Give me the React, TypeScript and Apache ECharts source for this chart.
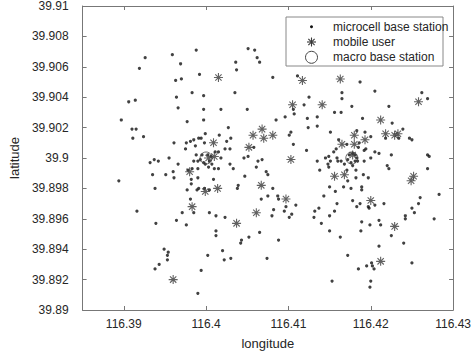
import React, { useEffect, useRef } from "react";
import * as echarts from "echarts";

const xTicks = [116.39, 116.4, 116.41, 116.42, 116.43];
const yTicks = [39.89, 39.892, 39.894, 39.896, 39.898, 39.9, 39.902, 39.904, 39.906, 39.908, 39.91];

const legendNames = ["microcell base station", "mobile user", "macro base station"];

const macroStations: number[][] = [
  [116.4, 39.9],
  [116.4177, 39.9],
];

const mobileUsers: number[][] = [
  [116.4015, 39.9053], [116.4117, 39.9051], [116.4163, 39.9052], [116.4105, 39.9035],
  [116.4141, 39.9035], [116.4258, 39.9037], [116.4212, 39.9025], [116.4068, 39.9019],
  [116.4057, 39.9015], [116.407, 39.9013], [116.4081, 39.9015], [116.4009, 39.901],
  [116.4052, 39.9007], [116.401, 39.9001], [116.4103, 39.8999], [116.418, 39.9015],
  [116.4165, 39.9009], [116.418, 39.9009], [116.4193, 39.9012], [116.4218, 39.9016],
  [116.4229, 39.9015], [116.4233, 39.9016], [116.398, 39.8991], [116.4014, 39.898],
  [116.3999, 39.8978], [116.4067, 39.8982], [116.4156, 39.8988], [116.4168, 39.8989],
  [116.4252, 39.8988], [116.4249, 39.8985], [116.3983, 39.8968], [116.4061, 39.8964],
  [116.4097, 39.8973], [116.42, 39.8972], [116.4037, 39.8957], [116.4229, 39.8955],
  [116.4212, 39.8932], [116.396, 39.892], [116.4003, 39.9], [116.4178, 39.9002],
];

const microcellStations: number[][] = [
  [116.4051, 39.9072], [116.4059, 39.9071], [116.3988, 39.9071], [116.3959, 39.9068],
  [116.3926, 39.9066], [116.4062, 39.9066], [116.4036, 39.9063], [116.4065, 39.9063],
  [116.3969, 39.9062], [116.3919, 39.9059], [116.4037, 39.9058], [116.3992, 39.9055],
  [116.4111, 39.9054], [116.4081, 39.9053], [116.397, 39.9052], [116.3963, 39.9051],
  [116.4187, 39.905], [116.4205, 39.9044], [116.4035, 39.9043], [116.3983, 39.9043],
  [116.4165, 39.9043], [116.4262, 39.9043], [116.3997, 39.9041], [116.4125, 39.904],
  [116.3964, 39.904], [116.4269, 39.9039], [116.4165, 39.9039], [116.3914, 39.9038],
  [116.3906, 39.9037], [116.4119, 39.9035], [116.4177, 39.9034], [116.4222, 39.9034],
  [116.3966, 39.9033], [116.4106, 39.9032], [116.3997, 39.9032], [116.4018, 39.9032],
  [116.405, 39.9032], [116.4156, 39.903], [116.4164, 39.903], [116.4107, 39.9029],
  [116.419, 39.9026], [116.4096, 39.9027], [116.4123, 39.9026], [116.4135, 39.9027],
  [116.3897, 39.9025], [116.3997, 39.9025], [116.4085, 39.9025], [116.3977, 39.9024],
  [116.4226, 39.9023], [116.4135, 39.9021], [116.4124, 39.902], [116.4027, 39.902],
  [116.3915, 39.9019], [116.391, 39.9019], [116.4239, 39.9019], [116.4183, 39.9018],
  [116.3999, 39.9016], [116.4151, 39.9017], [116.4193, 39.9017], [116.4103, 39.9017],
  [116.4101, 39.9015], [116.4016, 39.9015], [116.3924, 39.9014], [116.4218, 39.9013],
  [116.4247, 39.9013], [116.3911, 39.9013], [116.403, 39.9013], [116.4234, 39.9013],
  [116.425, 39.9012], [116.4161, 39.9012], [116.4025, 39.9011], [116.3961, 39.901],
  [116.3976, 39.901], [116.3981, 39.9011], [116.3985, 39.9012], [116.3991, 39.9013],
  [116.3994, 39.9013], [116.3998, 39.901], [116.3987, 39.9008], [116.3975, 39.9006],
  [116.4171, 39.9009], [116.4186, 39.901], [116.4192, 39.9005], [116.4205, 39.9004],
  [116.421, 39.9003], [116.4225, 39.9002], [116.4158, 39.9006], [116.4106, 39.9009],
  [116.4122, 39.9005], [116.4058, 39.9007], [116.4023, 39.9006], [116.4029, 39.9006],
  [116.4015, 39.9004], [116.3988, 39.9002], [116.4046, 39.9], [116.4051, 39.9001],
  [116.3955, 39.9], [116.3937, 39.8999], [116.3942, 39.8998], [116.3932, 39.8997],
  [116.3966, 39.8996], [116.4018, 39.9], [116.4063, 39.8998], [116.4068, 39.8999],
  [116.4061, 39.8994], [116.4029, 39.8996], [116.4033, 39.8993], [116.401, 39.8993],
  [116.4015, 39.8993], [116.3978, 39.8992], [116.3983, 39.8993], [116.399, 39.8993],
  [116.396, 39.8991], [116.4073, 39.8991], [116.4075, 39.8989], [116.4047, 39.8988],
  [116.3951, 39.8989], [116.3961, 39.8987], [116.3935, 39.8989], [116.4009, 39.8986],
  [116.399, 39.8987], [116.3982, 39.8983], [116.3894, 39.8985], [116.4039, 39.8982],
  [116.4038, 39.898], [116.4081, 39.898], [116.4004, 39.8979], [116.3977, 39.8979],
  [116.3991, 39.898], [116.3998, 39.898], [116.3989, 39.8979], [116.3938, 39.898],
  [116.4087, 39.8975], [116.4088, 39.8973], [116.4075, 39.8975], [116.4067, 39.8973],
  [116.3981, 39.8973], [116.4109, 39.8969], [116.4082, 39.8966], [116.4097, 39.8968],
  [116.4095, 39.8965], [116.4104, 39.8963], [116.4004, 39.8964], [116.4012, 39.8962],
  [116.4023, 39.8961], [116.4132, 39.8965], [116.4137, 39.8967], [116.4143, 39.8975],
  [116.415, 39.8981], [116.4157, 39.8978], [116.4135, 39.8998], [116.4138, 39.8992],
  [116.4145, 39.9], [116.4151, 39.8998], [116.4155, 39.9004], [116.4149, 39.8994],
  [116.4159, 39.9], [116.416, 39.8998], [116.4164, 39.8998], [116.4178, 39.8995],
  [116.4184, 39.8998], [116.4192, 39.8998], [116.42, 39.9], [116.4182, 39.8992],
  [116.4191, 39.8989], [116.4197, 39.8987], [116.4171, 39.8992], [116.4172, 39.8985],
  [116.4176, 39.898], [116.4167, 39.8981], [116.4189, 39.8981], [116.4189, 39.8979],
  [116.4182, 39.8987], [116.422, 39.8995], [116.4222, 39.8993], [116.4269, 39.9002],
  [116.4271, 39.9001], [116.4269, 39.8993], [116.4283, 39.8976], [116.426, 39.8974],
  [116.4258, 39.897], [116.425, 39.8967], [116.4253, 39.8964], [116.4242, 39.8962],
  [116.4242, 39.896], [116.4216, 39.897], [116.4205, 39.8969], [116.4197, 39.8968],
  [116.4187, 39.897], [116.4178, 39.8972], [116.4183, 39.8968], [116.4159, 39.897],
  [116.4156, 39.8965], [116.415, 39.8962], [116.4198, 39.8967], [116.4189, 39.8958],
  [116.4188, 39.8952], [116.4199, 39.8956], [116.421, 39.8959], [116.4212, 39.8956],
  [116.4225, 39.8949], [116.424, 39.8944], [116.4277, 39.896], [116.415, 39.8952],
  [116.4163, 39.8948], [116.4172, 39.8936], [116.421, 39.8942], [116.4201, 39.8931],
  [116.4195, 39.8929], [116.4202, 39.8929], [116.4204, 39.8927], [116.4185, 39.8927],
  [116.42, 39.8919], [116.4199, 39.8915], [116.4153, 39.8919], [116.425, 39.8931],
  [116.4131, 39.8961], [116.414, 39.8957], [116.408, 39.8962], [116.4101, 39.8961],
  [116.4012, 39.8952], [116.4012, 39.8949], [116.4043, 39.8946], [116.4042, 39.8944],
  [116.4052, 39.8948], [116.4065, 39.8951], [116.4088, 39.8946], [116.402, 39.8939],
  [116.4022, 39.8933], [116.403, 39.8934], [116.4002, 39.8936], [116.4074, 39.8934],
  [116.3949, 39.894], [116.3954, 39.8938], [116.3953, 39.8936], [116.3953, 39.8933],
  [116.3943, 39.893], [116.3938, 39.8927], [116.3994, 39.8926], [116.399, 39.8911],
  [116.3916, 39.8965], [116.3939, 39.8957], [116.3964, 39.8959], [116.3971, 39.8964],
  [116.3976, 39.8956], [116.3985, 39.8964], [116.42, 39.9014], [116.4185, 39.9007],
  [116.4194, 39.9006], [116.4148, 39.8996], [116.4149, 39.9001],
  [116.3995, 39.9002], [116.4002, 39.9002], [116.3997, 39.8997], [116.4004, 39.8998],
  [116.3993, 39.8999], [116.4006, 39.9001], [116.3999, 39.8996], [116.399, 39.8998],
  [116.4007, 39.8996], [116.3985, 39.8998], [116.4003, 39.8994], [116.4011, 39.9004],
  [116.3982, 39.8986],
  [116.4174, 39.9002], [116.4181, 39.9002], [116.4176, 39.8997], [116.4181, 39.8998],
  [116.4172, 39.8999], [116.4183, 39.9], [116.4178, 39.9003], [116.4168, 39.8996],
];

const FONT = "'Liberation Sans', Arial, Helvetica, sans-serif";
const STAR = "path://M5 0L5 10M0 5L10 5M1.5 1.5L8.5 8.5M1.5 8.5L8.5 1.5";

export default function App() {
  const ref = useRef<HTMLDivElement>(null);
  useEffect(() => {
    if (!ref.current) return;
    const chart = echarts.init(ref.current, undefined, { renderer: "svg" });
    const axisColor = "#777";
    const labelColor = "#262626";
    const xBase = {
      type: "value" as const,
      min: 116.385,
      max: 116.43,
      splitLine: { show: false },
      axisLine: { show: true, onZero: false, lineStyle: { color: axisColor, width: 1 } },
      axisTick: { show: true, inside: true, length: 4, customValues: xTicks, lineStyle: { color: axisColor } },
    };
    const yBase = {
      type: "value" as const,
      min: 39.89,
      max: 39.91,
      splitLine: { show: false },
      axisLine: { show: true, onZero: false, lineStyle: { color: axisColor, width: 1 } },
      axisTick: { show: true, inside: true, length: 4, customValues: yTicks, lineStyle: { color: axisColor } },
    };
    const lx = 311.5;
    const legendY = [26.7, 42, 57.3];
    const starR = 4.5;
    const d = starR * 0.7;
    const starColor = "#3a3a3a";
    chart.setOption({
      animation: false,
      backgroundColor: "#fff",
      grid: { left: 60, right: 20, top: 5, bottom: 40 },
      xAxis: [
        {
          ...xBase,
          position: "bottom",
          axisLabel: { customValues: xTicks, color: labelColor, fontSize: 12, fontFamily: FONT, margin: 8 },
          name: "longitude",
          nameLocation: "middle",
          nameGap: 27,
          nameTextStyle: { color: labelColor, fontSize: 13, fontFamily: FONT },
        },
        { ...xBase, position: "top", axisLabel: { show: false } },
      ],
      yAxis: [
        {
          ...yBase,
          position: "left",
          axisLabel: { customValues: yTicks, color: labelColor, fontSize: 12, fontFamily: FONT, margin: 14 },
          name: "latitude",
          nameLocation: "middle",
          nameGap: 50,
          nameTextStyle: { color: labelColor, fontSize: 13, fontFamily: FONT },
        },
        { ...yBase, position: "right", axisLabel: { show: false } },
      ],
      series: [
        {
          name: legendNames[0],
          type: "scatter",
          xAxisIndex: 0,
          yAxisIndex: 0,
          data: microcellStations,
          symbol: "circle",
          symbolSize: 3.2,
          itemStyle: { color: "#111" },
          silent: true,
        },
        {
          name: legendNames[1],
          type: "scatter",
          xAxisIndex: 0,
          yAxisIndex: 0,
          data: mobileUsers,
          symbol: STAR,
          symbolSize: 9,
          itemStyle: { color: "rgba(0,0,0,0)", borderColor: starColor, borderWidth: 1.1 },
          silent: true,
        },
        {
          name: legendNames[2],
          type: "scatter",
          xAxisIndex: 0,
          yAxisIndex: 0,
          data: macroStations,
          symbol: "circle",
          symbolSize: 12,
          itemStyle: { color: "rgba(0,0,0,0)", borderColor: "#444", borderWidth: 1 },
          silent: true,
        },
      ],
      graphic: [
        {
          type: "rect",
          shape: { x: 286, y: 17, width: 157, height: 49 },
          style: { fill: "#fff", stroke: "#888", lineWidth: 1 },
          z: 100,
        },
        { type: "circle", shape: { cx: lx, cy: legendY[0], r: 1.5 }, style: { fill: "#111" }, z: 101 },
        { type: "line", shape: { x1: lx, y1: legendY[1] - starR, x2: lx, y2: legendY[1] + starR }, style: { stroke: starColor, lineWidth: 1.1 }, z: 101 },
        { type: "line", shape: { x1: lx - starR, y1: legendY[1], x2: lx + starR, y2: legendY[1] }, style: { stroke: starColor, lineWidth: 1.1 }, z: 101 },
        { type: "line", shape: { x1: lx - d, y1: legendY[1] - d, x2: lx + d, y2: legendY[1] + d }, style: { stroke: starColor, lineWidth: 1.1 }, z: 101 },
        { type: "line", shape: { x1: lx - d, y1: legendY[1] + d, x2: lx + d, y2: legendY[1] - d }, style: { stroke: starColor, lineWidth: 1.1 }, z: 101 },
        { type: "circle", shape: { cx: lx, cy: legendY[2], r: 6 }, style: { fill: "none", stroke: "#444", lineWidth: 1 }, z: 101 },
        ...legendNames.map((t, i) => ({
          type: "text",
          x: 333,
          y: legendY[i],
          style: { text: t, fill: labelColor, fontSize: 12, fontFamily: FONT, verticalAlign: "middle", align: "left" },
          z: 101,
        })),
      ],
    });
    return () => chart.dispose();
  }, []);
  return <div ref={ref} style={{ position: "absolute", left: 0, top: 0, width: 474, height: 355 }} />;
}
